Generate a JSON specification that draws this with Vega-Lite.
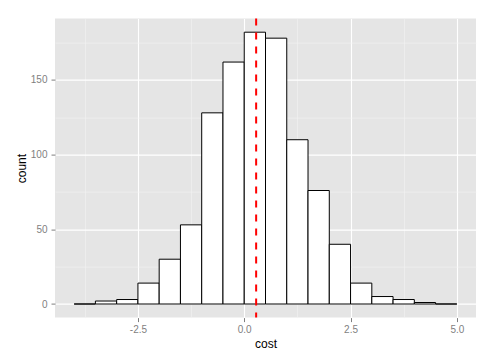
{
  "$schema": "https://vega.github.io/schema/vega-lite/v6.json",
  "width": 421,
  "height": 299,
  "autosize": {"type": "none"},
  "padding": {"left": 55, "top": 18.6, "right": 20, "bottom": 44.4},
  "background": "white",
  "config": {
    "view": {"fill": "#E5E5E5", "stroke": null},
    "font": "Liberation Sans",
    "axis": {
      "domain": false,
      "tickSize": 4,
      "tickColor": "#7F7F7F",
      "labelColor": "#7F7F7F",
      "labelFont": "Liberation Sans",
      "labelFontSize": 10,
      "labelPadding": 3,
      "titleFont": "Liberation Sans",
      "titleFontSize": 12,
      "titleFontWeight": "normal",
      "titleColor": "black"
    }
  },
  "layer": [
    {
      "data": {
        "values": [
          {"bin_start": -4.0, "bin_end": -3.5, "count": 0},
          {"bin_start": -3.5, "bin_end": -3.0, "count": 2},
          {"bin_start": -3.0, "bin_end": -2.5, "count": 3},
          {"bin_start": -2.5, "bin_end": -2.0, "count": 14},
          {"bin_start": -2.0, "bin_end": -1.5, "count": 30},
          {"bin_start": -1.5, "bin_end": -1.0, "count": 53},
          {"bin_start": -1.0, "bin_end": -0.5, "count": 128},
          {"bin_start": -0.5, "bin_end": 0.0, "count": 162},
          {"bin_start": 0.0, "bin_end": 0.5, "count": 182},
          {"bin_start": 0.5, "bin_end": 1.0, "count": 178},
          {"bin_start": 1.0, "bin_end": 1.5, "count": 110},
          {"bin_start": 1.5, "bin_end": 2.0, "count": 76},
          {"bin_start": 2.0, "bin_end": 2.5, "count": 40},
          {"bin_start": 2.5, "bin_end": 3.0, "count": 14},
          {"bin_start": 3.0, "bin_end": 3.5, "count": 5},
          {"bin_start": 3.5, "bin_end": 4.0, "count": 3},
          {"bin_start": 4.0, "bin_end": 4.5, "count": 1},
          {"bin_start": 4.5, "bin_end": 5.0, "count": 0}
        ]
      },
      "mark": {"type": "bar", "fill": "white", "stroke": "black", "strokeWidth": 1},
      "encoding": {
        "x": {
          "field": "bin_start",
          "type": "quantitative",
          "title": "cost",
          "scale": {"domain": [-4.45, 5.45], "nice": false, "zero": false},
          "axis": {
            "values": [-3.75, -2.5, -1.25, 0, 1.25, 2.5, 3.75, 5],
            "labelExpr": "datum.value % 2.5 === 0 ? (datum.value < 0 ? '-' : '') + format(abs(datum.value), '.1f') : ''",
            "gridColor": {"condition": {"test": "datum.value % 2.5 !== 0", "value": "#F2F2F2"}, "value": "white"},
            "gridWidth": {"condition": {"test": "datum.value % 2.5 !== 0", "value": 0.6}, "value": 1.1},
            "tickOpacity": {"condition": {"test": "datum.value % 2.5 !== 0", "value": 0}, "value": 1},
            "titlePadding": 4
          }
        },
        "x2": {"field": "bin_end"},
        "y": {
          "field": "count",
          "type": "quantitative",
          "title": "count",
          "scale": {"domain": [-9.1, 191.1], "nice": false, "zero": false},
          "axis": {
            "values": [0, 25, 50, 75, 100, 125, 150, 175],
            "labelExpr": "datum.value % 50 === 0 ? format(datum.value, 'd') : ''",
            "gridColor": {"condition": {"test": "datum.value % 50 !== 0", "value": "#F2F2F2"}, "value": "white"},
            "gridWidth": {"condition": {"test": "datum.value % 50 !== 0", "value": 0.6}, "value": 1.1},
            "tickOpacity": {"condition": {"test": "datum.value % 50 !== 0", "value": 0}, "value": 1},
            "labelPadding": 4,
            "titlePadding": 2
          }
        },
        "y2": {"datum": 0}
      }
    },
    {
      "data": {"values": [{"mean_cost": 0.28}]},
      "mark": {"type": "rule", "color": "red", "strokeWidth": 2, "strokeDash": [7, 7]},
      "encoding": {
        "x": {"field": "mean_cost", "type": "quantitative"}
      }
    }
  ]
}
